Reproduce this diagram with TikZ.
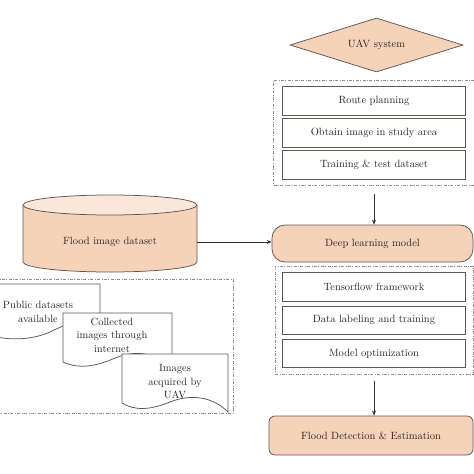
\documentclass[tikz,border=0pt]{standalone}
\usetikzlibrary{positioning,shapes.geometric,arrows.meta,fit}

\definecolor{peach}{HTML}{F6D2B8}
\definecolor{peachlight}{HTML}{FBE7DA}
\definecolor{edge}{HTML}{5E5752}
\definecolor{dashgrey}{HTML}{8C8C8C}

\tikzset{
  stepbox/.style={draw=edge, fill=white, minimum width=183pt, minimum height=29pt, inner sep=0pt},
  groupbox/.style={draw=dashgrey, line width=0.7pt, dash pattern=on 3pt off 1.5pt on 0.8pt off 1.5pt, inner sep=0pt},
  flowarrow/.style={-{Stealth[length=5pt,width=4pt]}, draw=black!80, line width=0.8pt},
  doctext/.style={align=center, inner sep=0pt},
}

\begin{document}
\begin{tikzpicture}[x=1pt, y=-1pt, line width=0.75pt, text=black!85,
  font=\fontsize{10.5}{13.5}\selectfont]

\useasboundingbox (0,0) rectangle (474,474);
\clip (0,0) rectangle (474,474);

% UAV system (diamond)
\node[diamond, aspect=3.2, draw=edge, fill=peach, minimum width=173pt, minimum height=54pt, inner sep=0pt] (uav) at (376.5,45) {UAV system};

% UAV steps
\node[stepbox] (route) at (374,101) {Route planning};
\node[stepbox, below=2pt of route] (obtain) {Obtain image in study area};
\node[stepbox, below=2pt of obtain] (train) {Training \& test dataset};
\node[groupbox, fit=(route)(train), inner xsep=8.5pt, inner ysep=6pt] (grp1) {};

% Deep learning model
\node[draw=edge, fill=peach, rounded corners=13pt, minimum width=201pt, minimum height=37pt] (dlm) at (372.5,243.5) {Deep learning model};

% Model steps
\node[stepbox, minimum height=28.5pt] (tf) at (374,287) {Tensorflow framework};
\node[stepbox, minimum height=28.5pt, below=4pt of tf] (label) {Data labeling and training};
\node[stepbox, minimum height=28.5pt, below=4pt of label] (opt) {Model optimization};
\node[groupbox, fit=(tf)(opt), inner xsep=7pt, inner ysep=6.5pt] (grp2) {};

% Flood detection (result)
\node[draw=edge, fill=peach, rounded corners=6pt, minimum width=204pt, minimum height=39pt] (flood) at (371,435.5) {Flood Detection \& Estimation};

% Flood image dataset (cylinder)
\fill[peach] (23,205) -- (23,262) arc[start angle=180, end angle=0, x radius=87, y radius=10] -- (197,205) -- cycle;
\draw[edge] (23,205) -- (23,262) arc[start angle=180, end angle=0, x radius=87, y radius=10] -- (197,205);
\filldraw[draw=edge, fill=peachlight] (110,205) ellipse[x radius=87, y radius=10];
\node[minimum width=174pt, inner sep=0pt] (dataset) at (110,242) {Flood image dataset};

% Image sources
\node[groupbox, minimum width=243pt, minimum height=134pt] (grp3) at (111.5,346) {};
\filldraw[draw=edge, fill=white] (-24,284) -- (100,284) -- (100,322)
  .. controls (85,318) and (70,322) .. (50,332)
  .. controls (30,341) and (0,342) .. (-24,330) -- cycle;
\filldraw[draw=edge, fill=white] (63,313) -- (172,313) -- (172,368)
  .. controls (155,352) and (135,350) .. (115,358)
  .. controls (95,367) and (78,369) .. (63,362) -- cycle;
\filldraw[draw=edge, fill=white] (122,354) -- (228,354) -- (228,412)
  .. controls (212,396) and (190,394) .. (170,402)
  .. controls (150,410) and (135,411) .. (122,403) -- cycle;
\node[doctext] (pub) at (38,312) {Public datasets\\available};
\node[doctext] (coll) at (112,335) {Collected\\images through\\internet};
\node[doctext] (acq) at (175,382) {Images\\acquired by\\UAV};

% Connectors
\draw[flowarrow] (dataset.east) -- (dataset.east -| dlm.west);
\draw[flowarrow, shorten <=8pt] (grp1.south) -- (grp1.south |- dlm.north);
\draw[flowarrow, shorten <=6pt] (grp2.south) -- (grp2.south |- flood.north);

\end{tikzpicture}
\end{document}
